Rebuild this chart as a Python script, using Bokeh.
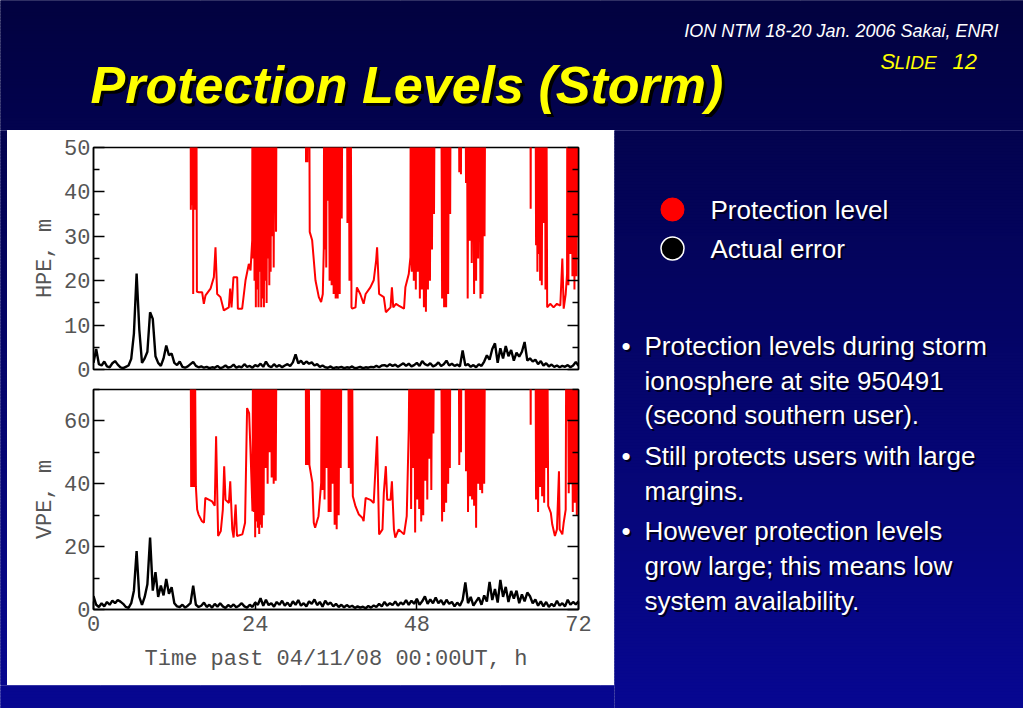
from bokeh.plotting import figure
from bokeh.models import Range1d, LinearAxis, FixedTicker
from bokeh.layouts import column, row
from bokeh.embed import file_html
from bokeh.resources import INLINE
from bokeh.core.properties import value

# ---------------- data ----------------
# hours past 04/11/08 00:00UT, actual error sampled every 0.4 h
err_t = [round(i * 0.4, 1) for i in range(181)]

hpe_err = [1.5, 4.6, 1.2, 0.9, 1.8, 0.7, 0.5, 1.4, 1.9, 1.1,
           0.5, 0.3, 0.6, 0.9, 2.4, 8.1, 21.6, 9.0, 1.5, 2.5,
           4.0, 12.9, 11.4, 3.0, 1.5, 0.8, 2.5, 5.4, 3.2, 3.6,
           1.5, 1.0, 1.8, 0.6, 0.4, 0.7, 1.2, 1.7, 0.8, 0.5,
           0.7, 0.4, 0.6, 0.3, 0.5, 0.4, 0.8, 0.3, 0.5, 0.9,
           0.4, 0.6, 1.1, 0.4, 0.7, 0.5, 1.2, 0.6, 0.8, 0.4,
           1.0, 0.7, 1.3, 0.6, 1.8, 0.8, 0.5, 1.2, 0.6, 1.0,
           0.5, 0.9, 1.2, 0.8, 1.6, 3.4, 1.4, 2.0, 1.2, 1.8,
           1.3, 1.6, 0.9, 1.2, 0.6, 0.9, 0.5, 0.4, 0.7, 0.3,
           0.5, 0.4, 0.6, 0.3, 0.5, 0.4, 0.7, 0.3, 0.4, 0.6,
           0.3, 0.5, 0.4, 0.6, 0.5, 0.8, 0.5, 0.9, 1.0, 0.7,
           1.2, 0.8, 1.1, 0.6, 1.0, 1.4, 0.8, 1.3, 0.7, 1.0,
           1.5, 0.8, 1.9, 1.2, 0.9, 1.4, 0.7, 1.0, 1.6, 0.8,
           1.2, 2.0, 0.9, 1.3, 0.8, 1.1, 0.7, 4.3, 0.9, 1.2,
           0.6, 1.0, 0.5, 1.2, 0.8, 1.8, 3.2, 2.2, 4.6, 5.9,
           1.5, 4.8, 2.5, 5.3, 3.0, 4.4, 2.0, 3.8, 2.9, 4.0,
           6.2, 2.0, 2.5, 1.8, 2.2, 1.2, 1.9, 0.9, 1.4, 0.7,
           1.1, 0.6, 0.9, 0.5, 0.8, 0.6, 1.0, 0.5, 0.9, 1.7,
           0.8]

vpe_err = [4.3, 1.5, 0.8, 2.0, 1.0, 2.4, 1.5, 2.8, 2.0, 3.0,
           2.5, 1.8, 0.8, 0.5, 2.0, 6.0, 18.6, 4.0, 1.5, 4.0,
           8.0, 22.9, 6.0, 11.9, 4.0, 7.6, 4.5, 9.7, 5.0, 7.1,
           2.0, 1.0, 0.8, 1.5, 0.6, 1.2, 2.0, 7.6, 1.5, 0.8,
           1.2, 2.2, 0.8, 1.5, 0.6, 1.8, 0.9, 2.0, 1.0, 0.5,
           1.4, 0.8, 1.6, 0.7, 1.2, 2.0, 1.0, 0.6, 1.5, 0.8,
           2.2, 1.5, 3.6, 1.2, 3.1, 1.4, 2.0, 0.9, 2.4, 1.5,
           2.8, 1.2, 2.2, 1.0, 2.6, 1.5, 3.0, 1.2, 2.0, 1.0,
           2.6, 1.8, 3.2, 1.4, 2.4, 0.9, 2.8, 1.6, 2.2, 1.0,
           1.8, 0.8, 1.5, 0.7, 1.4, 0.8, 1.2, 0.5, 1.0, 0.6,
           0.9, 0.4, 1.1, 0.6, 1.3, 0.8, 1.8, 1.0, 2.4, 1.2,
           2.0, 1.4, 2.6, 1.2, 2.2, 1.6, 3.0, 1.5, 2.8, 1.8,
           3.4, 1.5, 2.6, 4.2, 1.8, 3.2, 2.0, 3.8, 2.0, 3.0,
           1.5, 3.1, 1.8, 2.4, 1.0, 2.2, 1.2, 3.0, 8.6, 2.0,
           4.0, 1.2, 2.6, 3.8, 1.5, 4.5, 2.5, 8.8, 3.0, 6.5,
           2.2, 9.4, 4.0, 7.2, 2.4, 5.9, 3.5, 6.0, 2.0, 4.8,
           2.6, 5.4, 4.2, 2.0, 3.2, 1.2, 2.6, 1.0, 2.4, 0.8,
           1.8, 1.0, 2.8, 1.2, 2.0, 1.0, 3.1, 1.5, 2.4, 1.6,
           2.6]

# Horizontal protection level (values above 50 m are off the chart)
hpl_t = [0, 14.4, 14.45, 14.55, 14.65, 14.75, 14.8, 14.85, 14.95, 15.05, 15.15, 15.25, 15.35,
         15.64, 16.13, 16.38, 16.63, 17.37, 17.87, 18.11, 18.36, 18.85, 19.35, 20.09, 20.29,
         20.49, 20.78, 21.33, 21.43, 22.07, 22.57, 23.06, 23.31, 23.56,
         23.6, 23.7, 23.8, 23.9, 24.0, 24.1, 24.2, 24.3, 24.4, 24.5, 24.6, 24.7, 24.8, 24.9,
         25.0, 25.1, 25.2, 25.3, 25.4, 25.5, 25.6, 25.7, 25.8, 25.9, 26.0, 26.1, 26.2, 26.3,
         26.4, 26.5, 26.6, 26.75, 26.9, 27.1, 27.2,
         31.5, 31.55, 31.6, 31.75, 31.85, 32.0, 32.1, 32.46, 32.95, 33.45, 33.79, 34.04, 34.19,
         34.25, 34.35, 34.45, 34.55, 34.65, 34.75, 34.9, 35.05, 35.2, 35.35, 35.5, 35.65, 35.8,
         35.95, 36.1, 36.25, 36.4, 36.55, 36.7, 36.85, 37.0,
         37.6, 37.7, 37.85, 38.0, 38.15, 38.3,
         38.4, 38.9, 39.1, 39.6, 40.1, 40.4, 41.1, 41.6, 41.96, 42.1, 42.4, 43.1, 43.4, 44.1,
         44.3, 44.5, 44.9, 45.3, 46.1, 46.3, 46.8, 47.05,
         47.1, 47.25, 47.4, 47.55, 47.7, 47.85, 48.0, 48.15, 48.3, 48.45, 48.6, 48.75, 48.9,
         49.05, 49.2, 49.35, 49.5, 49.65, 49.8, 49.95, 50.1, 50.25, 50.4, 50.55, 50.7,
         51.6, 51.75, 51.9, 52.05, 52.2, 52.35, 52.5, 52.65, 52.8, 52.95, 53.05,
         54.2, 54.3, 54.45, 54.55, 54.65,
         55.2, 55.3, 55.4, 55.55, 55.7, 55.85, 56.0, 56.15, 56.3, 56.5, 56.65, 56.8, 56.95,
         57.1, 57.25, 57.45, 57.6, 57.75, 57.9, 58.05, 58.2,
         64.85, 64.9, 64.95,
         65.6, 65.7, 65.8, 65.9, 66.0, 66.1, 66.2, 66.3, 66.4, 66.55, 66.7, 66.85, 67.0, 67.1,
         67.2, 67.35,
         67.8, 68.3, 68.8, 69.3, 69.6, 69.8, 70.1, 70.3,
         70.35, 70.5, 70.65, 70.8, 70.95, 71.1, 71.25, 71.4, 71.55, 71.7, 71.85, 72.0]
hpl_v = [80, 80, 36, 80, 37, 80, 17, 80, 36, 80, 36, 80, 17.5,
         17.4, 17.4, 14.8, 16.7, 18.2, 20.8, 27.5, 17.0, 16.3, 13.3, 14.0, 18.2,
         14.0, 20.8, 20.8, 13.7, 13.7, 20.1, 23.8, 22.3, 29.1,
         80, 25, 80, 20, 80, 14, 80, 18, 80, 14, 80, 22, 80, 14,
         80, 16, 80, 14, 80, 20, 80, 15, 80, 25, 80, 19, 80, 22,
         80, 30, 80, 23, 80, 31, 80,
         80, 46.7, 80, 46.7, 80, 80, 31, 29.1, 20.1, 16.3, 15.2, 17.0, 27.5,
         80, 27, 80, 23, 80, 38, 80, 20, 80, 19, 80, 17, 80,
         16, 80, 16, 80, 17, 80, 34, 80,
         80, 33, 80, 20, 80, 14,
         13.7, 14.0, 18.5, 17.0, 14.8, 17.0, 18.5, 20.1, 24.6, 27.5, 17.0, 16.3, 12.9, 14.0,
         18.5, 14.0, 14.8, 14.4, 13.7, 18.5, 21.5, 25.3,
         80, 22, 80, 20, 80, 18, 80, 22, 80, 16, 80, 18, 80,
         14, 80, 13, 80, 18, 80, 20, 80, 27, 80, 35, 80,
         80, 16, 80, 14, 80, 14, 80, 17, 80, 35, 80,
         80, 44.4, 80, 44, 80,
         80, 42, 80, 16, 80, 29, 80, 24, 80, 17, 80, 20, 80,
         25, 80, 16, 80, 17, 80, 30, 80,
         80, 36.2, 80,
         80, 28, 80, 22, 80, 26, 80, 20, 80, 19, 80, 33, 80, 18,
         80, 14,
         14.8, 14.0, 14.8, 14.4, 25, 13.7, 17.0, 21.5,
         80, 19, 80, 26, 80, 21, 80, 18, 80, 21, 80, 30]

# Vertical protection level (values above 70 m are off the chart)
vpl_t = [0, 14.4, 14.5, 14.6, 14.7, 14.8, 14.9, 15.0, 15.2,
         15.39, 15.6, 16.1, 16.4, 16.6, 17.6, 18.0, 18.2, 18.5, 18.9, 19.2, 19.4, 19.6, 20.1,
         20.3, 20.6, 20.8, 21.1, 21.3, 22.1, 22.5, 22.8, 23.1, 23.3, 23.6,
         23.7, 23.8, 23.9, 24.0, 24.1, 24.2, 24.3, 24.4, 24.5, 24.6, 24.7, 24.8, 24.9, 25.0,
         25.1, 25.25, 25.4, 25.55, 25.7, 25.85, 26.0, 26.15, 26.3, 26.45, 26.6, 26.75, 26.9,
         27.05, 27.2,
         31.5, 31.55, 31.65, 31.8, 31.9, 32.05,
         32.5, 32.7, 32.9, 33.4, 33.8,
         33.9, 34.0, 34.15, 34.3, 34.45, 34.6, 34.75, 34.9, 35.05, 35.2, 35.35, 35.5, 35.65,
         35.8, 35.95, 36.1, 36.25, 36.4, 36.55, 36.7, 36.85,
         37.8, 37.9, 38.05, 38.2, 38.35, 38.5,
         38.9, 39.4, 39.9, 40.1, 40.4, 41.1, 41.6, 42.1, 42.4, 42.9, 43.1, 43.4, 43.6, 44.1,
         44.3, 44.6, 44.8, 45.3, 46.1, 46.5, 46.8,
         47.0, 47.15, 47.3, 47.45, 47.6, 47.75, 47.9, 48.05, 48.2, 48.35, 48.5, 48.65, 48.8,
         48.95, 49.1, 49.25, 49.4, 49.55, 49.7, 49.85, 50.0, 50.15, 50.3, 50.45, 50.6,
         51.6, 51.75, 51.9, 52.05, 52.2, 52.35, 52.5, 52.65, 52.8, 52.9, 53.0,
         54.2, 54.3, 54.45, 54.55, 54.65,
         55.2, 55.3, 55.45, 55.6, 55.75, 55.9, 56.05, 56.2, 56.35, 56.5, 56.65, 56.8, 56.95,
         57.1, 57.25, 57.4, 57.55, 57.7, 57.85, 58.0, 58.15,
         64.85, 64.9, 64.95,
         65.6, 65.7, 65.85, 66.0, 66.15, 66.3, 66.45, 66.6, 66.75, 66.9, 67.05, 67.2, 67.35, 67.5,
         67.9, 68.1, 68.5, 68.8, 69.1, 69.2, 69.6, 69.8, 70.1,
         70.2, 70.3, 70.4, 70.55, 70.7, 70.85, 71.0, 71.15, 71.3, 71.45, 71.6, 71.75, 71.9, 72.0]
vpl_v = [100, 100, 39, 100, 39, 100, 39, 100, 39,
         31.8, 30.2, 28.1, 27.6, 35.5, 34.4, 33.0, 55.1, 23.4, 25.0, 31.8, 45.6, 34.9, 33.9,
         40.8, 25.5, 22.9, 33.4, 23.4, 23.9, 27.6, 64.1, 62.5, 51.0, 31.3,
         100, 31, 100, 23, 100, 28, 100, 26, 100, 24, 100, 27, 100, 26,
         100, 30, 100, 45, 100, 40, 100, 50, 100, 42, 100, 40, 100,
         41, 100,
         100, 46, 100, 46, 100, 46,
         40.3, 27.6, 26.0, 29.7, 40.3,
         100, 38, 100, 35, 100, 45, 100, 31, 100, 31, 100, 40, 100,
         27, 100, 25.5, 100, 30, 100, 45, 100,
         100, 45, 100, 40, 100, 36,
         32.8, 30.2, 29.2, 28.1, 35.5, 34.9, 33.9, 55.1, 23.9, 25.5, 37.1, 45.6, 34.9, 34.9,
         40.8, 25.5, 22.9, 25.5, 23.9, 29.7, 57.2,
         100, 32, 100, 45, 100, 24.5, 100, 35, 100, 32, 100, 28, 100,
         30, 100, 41, 100, 35, 100, 48, 100, 38, 100, 56, 100,
         100, 28, 100, 31, 100, 34, 100, 40, 100, 45, 100,
         100, 46, 100, 50, 100,
         100, 44, 100, 31, 100, 36, 100, 35, 100, 33, 100, 26, 100,
         40, 100, 38, 100, 37, 100, 40, 100,
         100, 58.8, 100,
         100, 35, 100, 31, 100, 39, 100, 36, 100, 34, 100, 45, 100, 33,
         30.7, 27.1, 23.4, 25.5, 44.0, 25.5, 23.9, 27.6, 31.8,
         100, 60, 100, 37, 100, 40, 100, 31, 100, 34, 100, 30, 100, 38]

hpe_ticks = [0, 10, 20, 30, 40, 50]
hpe_minor = [5, 15, 25, 35, 45]
vpe_ticks = [0, 20, 40, 60]
vpe_minor = [10, 30, 50, 70]
time_ticks = [0, 24, 48, 72]

title_text = "Protection Levels (Storm)"
header_text = "ION NTM 18-20 Jan. 2006 Sakai, ENRI"
legend_labels = ["Protection level", "Actual error"]
bullet_lines = [
    ("\u2022", "Protection levels during storm"),
    ("", "ionosphere at site 950491"),
    ("", "(second southern user)."),
    ("\u2022", "Still protects users with large"),
    ("", "margins."),
    ("\u2022", "However protection levels"),
    ("", "grow large; this means low"),
    ("", "system availability."),
]
bullet_y = [345, 380, 414, 455, 490, 530, 565, 600]

# ---------------- styling helpers ----------------
SANS = value("Liberation Sans")
MONO = "Liberation Mono"
YELLOW = "#ffff00"


def grad_color(y):
    t = max(0.0, min(1.0, y / 708.0))
    r = int(2 + 6 * t)
    g = int(2 + 6 * t)
    b = int(64 + (146 - 64) * t)
    return "#%02x%02x%02x" % (r, g, b)


def bg_figure(x0, x1, y0, y1):
    p = figure(width=x1 - x0, height=y1 - y0, title=None,
               x_range=Range1d(x0, x1), y_range=Range1d(y1, y0),
               output_backend="svg", toolbar_location=None,
               x_axis_location=None, y_axis_location=None,
               min_border=0, outline_line_color=None)
    p.border_fill_color = grad_color((y0 + y1) / 2)
    p.background_fill_color = grad_color((y0 + y1) / 2)
    tops = list(range(y0 - 3, y1 + 3, 3))
    bots = [t + 4 for t in tops]
    cols = [grad_color(t + 2) for t in tops]
    p.quad(left=x0 - 2, right=x1 + 2, top=tops, bottom=bots,
           fill_color=cols, line_color=None)
    return p


def txt(p, x, y, s, size, color, style="normal", align="left",
        shadow=None, off=2):
    if shadow:
        p.text(x=[x + off], y=[y + off], text=[s], text_font=SANS,
               text_font_size=size, text_font_style=style, text_color=shadow,
               text_align=align, text_baseline="middle")
    p.text(x=[x], y=[y], text=[s], text_font=SANS, text_font_size=size,
           text_font_style=style, text_color=color, text_align=align,
           text_baseline="middle")


def style_axis(ax, ticks, minor):
    ax.ticker = FixedTicker(ticks=ticks, minor_ticks=minor)
    ax.axis_line_color = "black"
    ax.axis_line_width = 1.5
    ax.major_tick_in = 11
    ax.major_tick_out = 0
    ax.minor_tick_in = 6
    ax.minor_tick_out = 0
    ax.major_tick_line_color = "black"
    ax.major_tick_line_width = 1.5
    ax.minor_tick_line_color = "black"
    ax.minor_tick_line_width = 1.5
    ax.major_label_text_font = MONO
    ax.major_label_text_font_size = "22px"
    ax.major_label_text_color = "#555555"
    ax.major_label_standoff = 3
    ax.axis_label_text_font = MONO
    ax.axis_label_text_font_size = "22px"
    ax.axis_label_text_font_style = "normal"
    ax.axis_label_text_color = "#555555"


def chart(height, ymax, ticks, minor, bt, bb, ylabel, with_x):
    p = figure(width=607, height=height, title=None, x_range=Range1d(0, 72),
               y_range=Range1d(0, ymax), output_backend="svg",
               toolbar_location=None,
               x_axis_location="below" if with_x else None,
               y_axis_location="left",
               min_border_left=86, min_border_right=36,
               min_border_top=bt, min_border_bottom=bb)
    p.background_fill_color = "white"
    p.border_fill_color = "white"
    p.outline_line_color = "black"
    p.outline_line_width = 1.5
    p.grid.visible = False
    ya = p.yaxis[0]
    style_axis(ya, ticks, minor)
    ya.axis_label = ylabel
    ya.axis_label_standoff = 3
    ra = LinearAxis()
    style_axis(ra, ticks, minor)
    ra.major_label_text_color = None
    ra.major_label_standoff = 0
    p.add_layout(ra, "right")
    if with_x:
        xa = p.xaxis[0]
        style_axis(xa, time_ticks, [])
        xa.major_tick_in = 8
        xa.major_label_standoff = 6
        xa.axis_label = "Time past 04/11/08 00:00UT, h"
        xa.axis_label_standoff = 13
    return p


# ---------------- header ----------------
header = bg_figure(0, 1023, 0, 130)
txt(header, 998, 30, header_text, "18px", "white", style="italic", align="right")
txt(header, 880, 61, "S", "22px", YELLOW, style="italic")
txt(header, 894, 62, "LIDE", "19px", YELLOW, style="italic")
txt(header, 952, 61, "12", "22px", YELLOW, style="italic")
txt(header, 90, 84, title_text, "52px", YELLOW, style="bold italic",
    shadow="#000000", off=3)

# ---------------- charts ----------------
p_h = chart(255, 50, hpe_ticks, hpe_minor, 17, 16, "HPE, m", False)
p_h.line(hpl_t, hpl_v, line_color="#ff0000", line_width=2)
p_h.line(err_t, hpe_err, line_color="black", line_width=2.4)

p_v = chart(300, 70, vpe_ticks, vpe_minor, 4, 76, "VPE, m", True)
p_v.line(vpl_t, vpl_v, line_color="#ff0000", line_width=2)
p_v.line(err_t, vpe_err, line_color="black", line_width=2.4)

lstrip = bg_figure(0, 7, 130, 685)
bstrip = bg_figure(0, 614, 685, 708)

# ---------------- right side text ----------------
right = bg_figure(614, 1023, 130, 708)
right.scatter(x=[672], y=[209], size=23, marker="circle",
              fill_color="#ff0000", line_color="#ff0000")
right.scatter(x=[672], y=[248], size=23, marker="circle",
              fill_color="black", line_color="white", line_width=1.5)
txt(right, 710, 209, legend_labels[0], "26px", "white", shadow="#000020")
txt(right, 710, 248, legend_labels[1], "26px", "white", shadow="#000020")
for (b, s), yy in zip(bullet_lines, bullet_y):
    if b:
        txt(right, 621, yy, b, "26px", "white", shadow="#000020")
    txt(right, 644, yy, s, "26px", "white", shadow="#000020")

layout = column(
    header,
    row(column(row(lstrip, column(p_h, p_v)), bstrip), right),
)
open("out.html", "w").write(file_html(layout, INLINE))
